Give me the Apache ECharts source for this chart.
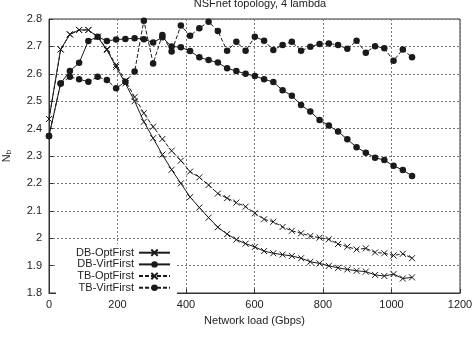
<!DOCTYPE html>
<html>
<head>
    <meta charset="utf-8">
    <title>NSFnet topology</title>
    <script src="https://cdn.jsdelivr.net/npm/echarts@6/dist/echarts.min.js"></script>
</head>
<body style="margin:0">
    <div id="main" style="width: 474px;height:353px;"></div>
    <script type="text/javascript">
        // network load (Gbps)
        var loads = [0, 34, 61, 88, 115, 142, 169, 196, 223, 250, 277, 304, 331, 358, 385, 412, 439, 466, 493, 520,
            547, 574, 601, 628, 655, 682, 709, 736, 763, 790, 817, 844, 871, 898, 925, 952, 979, 1006, 1033, 1060];

        var dbOptFirst = [2.435, 2.689, 2.744, 2.76, 2.76, 2.735, 2.687, 2.625, 2.565, 2.50, 2.425, 2.365, 2.305, 2.25,
            2.20, 2.15, 2.112, 2.075, 2.04, 2.015, 1.995, 1.98, 1.968, 1.953, 1.945, 1.94, 1.935, 1.927, 1.914, 1.908,
            1.899, 1.892, 1.886, 1.881, 1.878, 1.866, 1.862, 1.869, 1.853, 1.857];
        var dbVirtFirst = [2.373, 2.565, 2.61, 2.64, 2.72, 2.735, 2.72, 2.725, 2.727, 2.73, 2.726, 2.714, 2.733, 2.70,
            2.697, 2.683, 2.66, 2.65, 2.641, 2.62, 2.61, 2.60, 2.592, 2.58, 2.57, 2.54, 2.52, 2.486, 2.462, 2.431,
            2.411, 2.389, 2.361, 2.332, 2.312, 2.294, 2.285, 2.264, 2.249, 2.227];
        var tbOptFirst = [2.435, 2.689, 2.744, 2.76, 2.76, 2.735, 2.69, 2.632, 2.575, 2.515, 2.456, 2.407, 2.362, 2.319,
            2.283, 2.243, 2.222, 2.194, 2.163, 2.146, 2.13, 2.115, 2.091, 2.069, 2.06, 2.041, 2.027, 2.018, 2.008, 2.002,
            1.996, 1.979, 1.969, 1.959, 1.963, 1.948, 1.945, 1.937, 1.943, 1.927];
        var tbVirtFirst = [2.373, 2.565, 2.589, 2.58, 2.571, 2.589, 2.577, 2.547, 2.571, 2.608, 2.794, 2.638, 2.742, 2.681,
            2.776, 2.739, 2.766, 2.79, 2.756, 2.684, 2.717, 2.684, 2.735, 2.721, 2.687, 2.705, 2.717, 2.684, 2.699, 2.709,
            2.711, 2.705, 2.691, 2.721, 2.677, 2.701, 2.693, 2.648, 2.689, 2.66];

        var chartDom = document.getElementById('main');
        var myChart = echarts.init(chartDom);
        var option;

        var font = 'Liberation Sans, Arial, sans-serif';
        var ink = '#1a1a1a';
        var cross = 'path://M0 0L10 10M10 0L0 10';

        function pairs(ys) {
            return loads.map(function (x, i) { return [x, ys[i]]; });
        }

        function makeSeries(name, ys, symbol, dashed) {
            var isCross = symbol === cross;
            return {
                name: name,
                type: 'line',
                data: pairs(ys),
                symbol: symbol,
                symbolSize: isCross ? 6 : 6.5,
                lineStyle: { color: ink, width: 1, type: dashed ? [4, 2] : 'solid' },
                itemStyle: isCross
                    ? { color: 'none', borderColor: ink, borderWidth: 1 }
                    : { color: ink, borderWidth: 0 },
                emphasis: { disabled: true }
            };
        }

        option = {
            animation: false,
            backgroundColor: '#fff',
            textStyle: { fontFamily: font },
            title: {
                text: 'NSFnet topology, 4 lambda',
                left: 255,
                textAlign: 'center',
                top: -7,
                textStyle: { fontSize: 11, fontWeight: 'normal', color: '#222', fontFamily: font }
            },
            grid: {
                left: 49, right: 14, top: 19, bottom: 60,
                outerBoundsMode: 'none',
                containLabel: false,
                show: true, borderColor: '#333', borderWidth: 1
            },
            legend: {
                orient: 'vertical',
                left: 56,
                top: 244,
                padding: [3, 6, 3, 16],
                backgroundColor: '#fff',
                align: 'right',
                itemWidth: 31,
                itemHeight: 8,
                itemGap: 0.5,
                formatter: '{a|{name}}',
                textStyle: {
                    fontSize: 11, color: '#222', fontFamily: font, lineHeight: 10,
                    rich: { a: { width: 62, align: 'right', fontSize: 11, lineHeight: 10, fontFamily: font, color: '#222' } }
                },
                data: ['DB-OptFirst', 'DB-VirtFirst', 'TB-OptFirst', 'TB-VirtFirst']
            },
            xAxis: {
                type: 'value',
                min: 0, max: 1200, interval: 200,
                name: 'Network load (Gbps)',
                nameLocation: 'middle',
                nameGap: 22,
                nameTextStyle: { fontSize: 11, color: '#222', fontFamily: font },
                axisLine: { show: true, lineStyle: { color: '#333' } },
                axisTick: { inside: true, length: 4, lineStyle: { color: '#333' } },
                axisLabel: {
                    fontSize: 11, color: '#222', margin: 6, fontFamily: font,
                    formatter: function (v) { return String(v); }
                },
                splitLine: { show: true, lineStyle: { color: '#777', type: [2, 2], width: 1 } }
            },
            yAxis: {
                type: 'value',
                min: 1.8, max: 2.8, interval: 0.1,
                name: '{n|N}{s|b}',
                nameLocation: 'middle',
                nameRotate: 90,
                nameGap: 36,
                nameTextStyle: {
                    color: '#222', fontFamily: font,
                    rich: {
                        n: { fontSize: 11, color: '#222', fontFamily: font },
                        s: { fontSize: 8, color: '#222', fontFamily: font, verticalAlign: 'bottom', padding: [5, 0, 0, 0] }
                    }
                },
                axisLine: { show: true, lineStyle: { color: '#333' } },
                axisTick: { inside: true, length: 4, lineStyle: { color: '#333' } },
                axisLabel: {
                    fontSize: 11, color: '#222', margin: 7, fontFamily: font,
                    formatter: function (v) { return String(Math.round(v * 10) / 10); }
                },
                splitLine: { show: true, lineStyle: { color: '#777', type: [2, 2], width: 1 } }
            },
            series: [
                makeSeries('DB-OptFirst', dbOptFirst, cross, false),
                makeSeries('DB-VirtFirst', dbVirtFirst, 'circle', false),
                makeSeries('TB-OptFirst', tbOptFirst, cross, true),
                makeSeries('TB-VirtFirst', tbVirtFirst, 'circle', true)
            ]
        };

        option && myChart.setOption(option);
    </script>
</body>
</html>
